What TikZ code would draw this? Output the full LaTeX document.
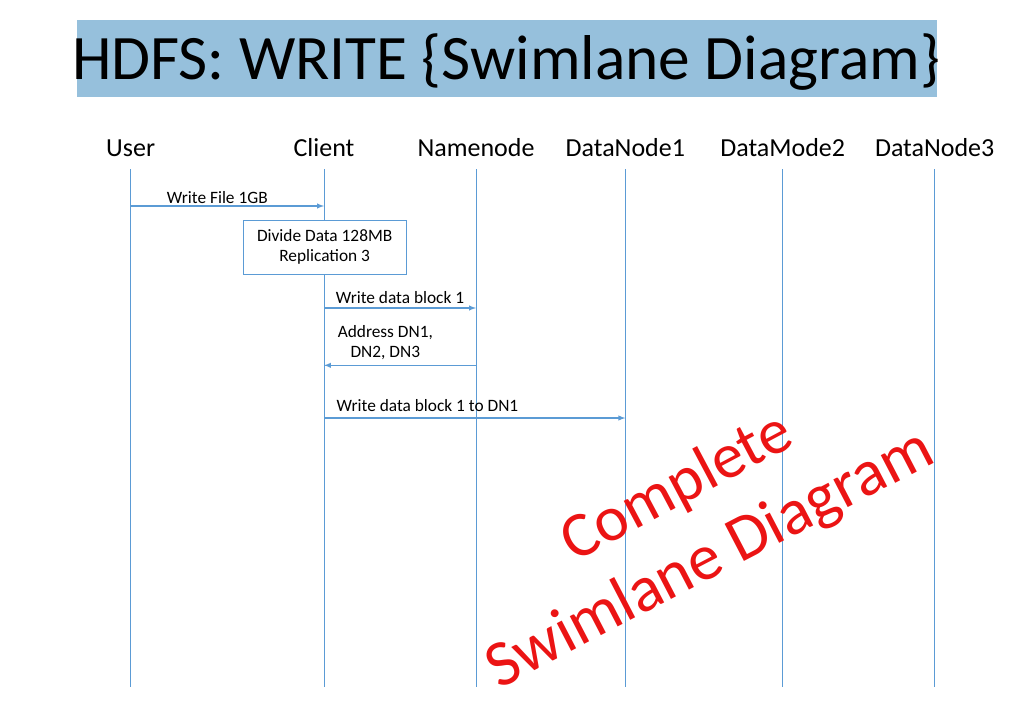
\documentclass[tikz,border=0pt]{standalone}
\usepackage{fontspec}
\setmainfont{Carlito}
\definecolor{lane}{RGB}{91,155,213}
\definecolor{titlebg}{RGB}{150,192,220}
\definecolor{redtxt}{RGB}{235,20,20}
\begin{document}
\begin{tikzpicture}[x=1pt,y=-1pt,
  lbl/.style={font=\fontsize{19.5}{19.5}\selectfont},
  msg/.style={font=\fontsize{13}{15}\selectfont},
  lanel/.style={draw=lane,line width=0.6pt},
  arr/.style={draw=lane,line width=0.8pt,-latex}]
\useasboundingbox (0,0) rectangle (768,533);
\fill[titlebg] (58,15) rectangle (703,73);
\node[anchor=west,inner sep=0,font=\fontsize{47.5}{47.5}\selectfont] (title) at (54,46.5) {HDFS: WRITE \{Swimlane Diagram\}};
\foreach \n/\x/\t in {u/98/User,c/243/Client,n/357/Namenode,d1/469/DataNode1,d2/587/DataMode2,d3/701/DataNode3}{
  \node[lbl] (\n) at (\x,111) {\t};
  \coordinate (\n t) at (\x,127);
  \coordinate (\n b) at (\x,515);
  \draw[lanel] (\n t) -- (\n b);
}
\coordinate (a1s) at (98,154.5); \coordinate (a1e) at (243,154.5);
\draw[arr] (a1s) -- (a1e);
\node[msg] (m1) at (163,148) {Write File 1GB};
\node[draw=lane,line width=0.6pt,fill=white,minimum width=122pt,minimum height=40pt,align=center,msg] (box) at (243.5,185.5) {Divide Data 128MB\\Replication 3};
\coordinate (a2s) at (243,231); \coordinate (a2e) at (357,231);
\draw[arr] (a2s) -- (a2e);
\node[msg] (m2) at (300,223) {Write data block 1};
\coordinate (a3s) at (357,274); \coordinate (a3e) at (243,274);
\draw[arr] (a3s) -- (a3e);
\node[msg,align=center] (m3) at (289,257) {Address DN1,\\DN2, DN3};
\coordinate (a4s) at (243,313.5); \coordinate (a4e) at (469,313.5);
\draw[arr] (a4s) -- (a4e);
\node[msg,anchor=west] (m4) at (249,304) {Write data block 1 to DN1};
\node[text=redtxt,rotate=28,font=\fontsize{48}{48}\selectfont,inner sep=1pt] (r1) at (508,366) {Complete};
\node[text=redtxt,rotate=27.5,font=\fontsize{49}{49}\selectfont,inner sep=1pt] (r2) at (533,420) {Swimlane Diagram};
\end{tikzpicture}
\end{document}
